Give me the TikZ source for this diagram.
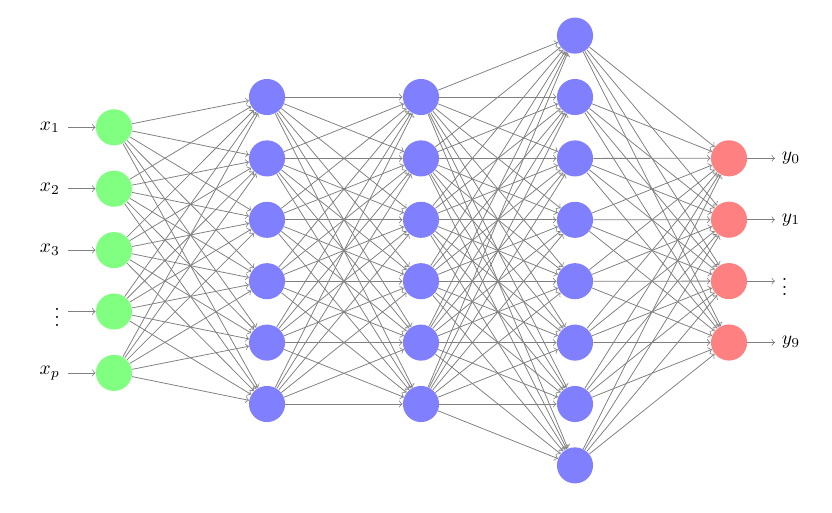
\documentclass[tikz,border=0pt]{standalone}
\usepackage{amsmath}
\usetikzlibrary{positioning,calc}

\begin{document}
\begin{tikzpicture}[x=0.018cm,y=-0.018cm,
        neuron/.style={circle,minimum size=0.65cm,inner sep=0pt},
        input neuron/.style={neuron,fill=green!50},
        hidden neuron/.style={neuron,fill=blue!50},
        output neuron/.style={neuron,fill=red!50},
        edge/.style={->,gray}]
   \useasboundingbox (0,0) rectangle (832,512);

   % layers
   \foreach \i in {1,...,5}
      \node[input neuron] (I-\i) at (114,{127.3+61.4*(\i-1)}) {};
   \foreach \i in {1,...,6}
      \node[hidden neuron] (A-\i) at (267,{97+61.4*(\i-1)}) {};
   \foreach \i in {1,...,6}
      \node[hidden neuron] (B-\i) at (421,{97+61.4*(\i-1)}) {};
   \foreach \i in {1,...,8}
      \node[hidden neuron] (C-\i) at (575,{35.6+61.4*(\i-1)}) {};
   \foreach \i in {1,...,4}
      \node[output neuron] (O-\i) at (729,{158.3+61.4*(\i-1)}) {};

   % inputs and outputs
   \foreach \name [count=\i] in {$x_1$,$x_2$,$x_3$,$\vdots$,$x_p$} {
      \node[anchor=east,inner sep=4pt] (x-\i) at (68,{127.3+61.4*(\i-1)}) {\name};
      \draw[edge] (x-\i) -- (I-\i);
   }
   \foreach \name [count=\i] in {$y_0$,$y_1$,$\vdots$,$y_9$} {
      \node[anchor=west] (y-\i) at (775,{158.3+61.4*(\i-1)}) {\name};
      \draw[edge] (O-\i) -- (y-\i);
   }

   % connections
   \foreach \i in {1,...,5}
      \foreach \j in {1,...,6}
         \draw[edge] (I-\i) -- (A-\j);
   \foreach \i in {1,...,6}
      \foreach \j in {1,...,6}
         \draw[edge] (A-\i) -- (B-\j);
   \foreach \i in {1,...,6}
      \foreach \j in {1,...,8}
         \draw[edge] (B-\i) -- (C-\j);
   \foreach \i in {1,...,8}
      \foreach \j in {1,...,4}
         \draw[edge] (C-\i) -- (O-\j);

\end{tikzpicture}
\end{document}
